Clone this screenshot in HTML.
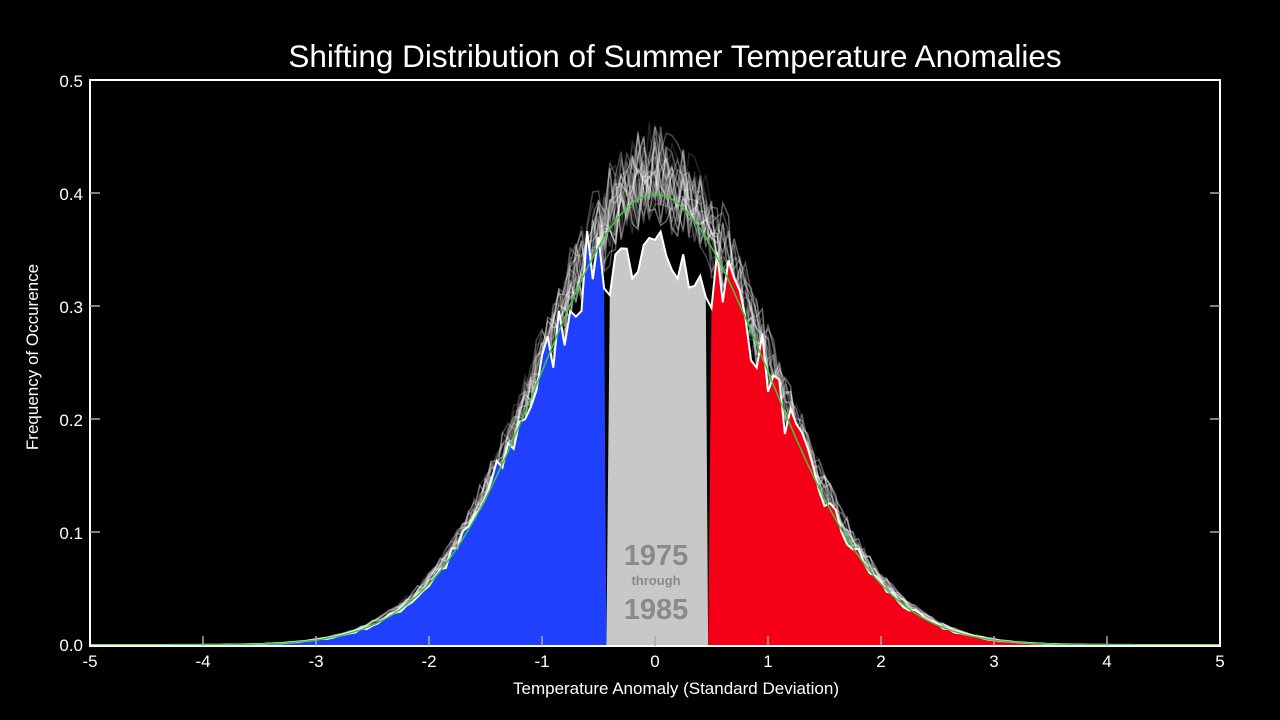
<!DOCTYPE html>
<html><head><meta charset="utf-8"><style>
html,body{margin:0;padding:0;background:#000;width:1280px;height:720px;overflow:hidden}
svg{display:block}
text{font-family:"Liberation Sans",Arial,sans-serif;fill:#fff}
text.yr{fill:#8a8a8a}
</style></head><body>
<svg id="s" width="1280" height="720" viewBox="0 0 1280 720">
<rect width="1280" height="720" fill="#000"/>
<g id="g"></g>
<rect x="90" y="80" width="1130" height="566" fill="none" stroke="#fff" stroke-width="2"/>
<g id="ticks" stroke="#aaa" stroke-width="1.5"></g>
<text x="675" y="67" font-size="31.5" text-anchor="middle">Shifting Distribution of Summer Temperature Anomalies</text>
<text x="676" y="694" font-size="17" text-anchor="middle">Temperature Anomaly (Standard Deviation)</text>
<text transform="translate(38,357) rotate(-90)" font-size="17" text-anchor="middle">Frequency of Occurence</text>
<g font-size="17" text-anchor="end">
<text x="83" y="651">0.0</text><text x="83" y="539">0.1</text><text x="83" y="426">0.2</text>
<text x="83" y="313">0.3</text><text x="83" y="200">0.4</text><text x="83" y="87">0.5</text>
</g>
<g font-size="17" text-anchor="middle">
<text x="90" y="667">-5</text><text x="203" y="667">-4</text><text x="316" y="667">-3</text>
<text x="429" y="667">-2</text><text x="542" y="667">-1</text><text x="655" y="667">0</text>
<text x="768" y="667">1</text><text x="881" y="667">2</text><text x="994" y="667">3</text>
<text x="1107" y="667">4</text><text x="1220" y="667">5</text>
</g>
<g font-weight="bold" text-anchor="middle">
<text class="yr" x="656" y="565" font-size="29">1975</text>
<text class="yr" x="656" y="585" font-size="13">through</text>
<text class="yr" x="656" y="619" font-size="29">1985</text>
</g>
</svg>
<script>
var X=function(v){return 655+v*113},Y=function(v){return 645-v*1130};
var seed=7;function r(){seed=(seed*16807)%2147483647;return seed/2147483647;}
function f(x){return 0.3989*Math.exp(-x*x/2);}
var g=document.getElementById('g'),ns='http://www.w3.org/2000/svg';
function add(tag,at){var e=document.createElementNS(ns,tag);for(var k in at)e.setAttribute(k,at[k]);g.appendChild(e);return e;}
var xs=[];for(var x=-5;x<=5.0001;x+=0.05)xs.push(x);
var main=xs.map(function(x){var v=f(x)*(1+(r()-0.5)*0.2);if(Math.abs(x)<0.5)v=f(x)*0.88+(r()-0.5)*0.04;return Math.max(0,v);});
function poly(a,b,col){var p='M'+X(a)+','+Y(0);xs.forEach(function(x,i){if(x>=a-1e-6&&x<=b+1e-6)p+=' L'+X(x).toFixed(1)+','+Y(main[i]).toFixed(1);});p+=' L'+X(b)+','+Y(0)+'Z';add('path',{d:p,fill:col});}
for(var k=0;k<22;k++){var sc=1+r()*0.08,sh=(r()-0.5)*0.1;var p='';xs.forEach(function(x,i){var v=f(x-sh)*sc*(1+(r()-0.5)*0.18);p+=(i?' L':'M')+X(x).toFixed(1)+','+Y(Math.max(0,v)).toFixed(1);});
add('path',{d:p,fill:'none',stroke:'#fff','stroke-opacity':(0.12+r()*0.35).toFixed(2),'stroke-width':1.5});}
poly(-3.5,-0.43,'#2040ff');poly(-0.43,0.47,'#c8c8c8');poly(0.47,3.7,'#f50016');
var p='';xs.forEach(function(x,i){p+=(i?' L':'M')+X(x).toFixed(1)+','+Y(main[i]).toFixed(1);});
add('path',{d:p,fill:'none',stroke:'#fff','stroke-width':2});
var q='';xs.forEach(function(x,i){q+=(i?' L':'M')+X(x).toFixed(1)+','+Y(f(x)).toFixed(1);});
add('path',{d:q,fill:'none',stroke:'#3ec83e','stroke-width':1.5});
var t=document.getElementById('ticks'),s='';
for(var i=-4;i<=4;i++)s+='M'+X(i)+',646 v-10 ';
for(var j=1;j<=4;j++){s+='M90,'+Y(j/10)+' h10 M1220,'+Y(j/10)+' h-10 ';}
var e=document.createElementNS(ns,'path');e.setAttribute('d',s);t.appendChild(e);
</script>
</body></html>
